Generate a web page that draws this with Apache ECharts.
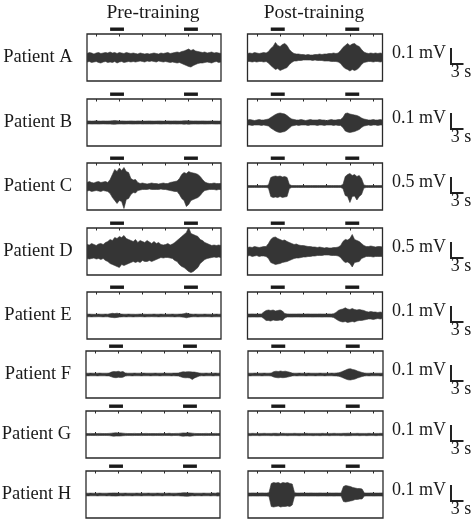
<!DOCTYPE html>
<html><head><meta charset="utf-8">
<script src="https://cdn.jsdelivr.net/npm/echarts@6/dist/echarts.min.js"></script>
<style>html,body{margin:0;padding:0;background:#fff}#c{width:474px;height:523px}</style>
</head><body><div id="c"></div>
<script>
// ---------- data: EMG trace envelopes (upper / lower amplitude, sampled every 0.5 s) ----------
const columns = ['Pre-training', 'Post-training'];
const patients = ['Patient A','Patient B','Patient C','Patient D','Patient E','Patient F','Patient G','Patient H'];
const ampScale = ['0.1 mV','0.1 mV','0.5 mV','0.5 mV','0.1 mV','0.1 mV','0.1 mV','0.1 mV'];
const timeScale = '3 s';
const timeSec = [0,0.5,1,1.5,2,2.5,3,3.5,4,4.5,5,5.5,6,6.5,7,7.5,8,8.5,9,9.5,10,10.5,11,11.5,12,12.5,13,13.5,14,14.5,
  15,15.5,16,16.5,17,17.5,18,18.5,19,19.5,20,20.5,21,21.5,22,22.5,23,23.5,24,24.5,25,25.5,26,26.5,27,27.5,28,28.5,29];
const tickSec = [2,7,12,17,22,27];
const stimOn = [5,21];
const stimOff = [8,24];

const preA_up  = [4,5,4.5,3.5,4.5,5,4,4.5,5,4.5, 5.5,4.5,5,4,5,4.5,4,5,4.5,4, 4.5,4,3.5,4.5,4,3.5,4,3.5,4,4.5, 4,3.5,4.5,4,4.5,5,4,4.5,5,5.5, 5,6,6.5,7.5,8.5,7,8,6.5,6,5.5, 5,5.5,4.5,5,5.5,4.5,5,4.5,4];
const preA_lo  = [4.5,4,5,4.5,4,5,5.5,4.5,4,5, 4.5,5,4,5.5,4.5,4,5,4.5,4,4.5, 4,4.5,4,3.5,4,4.5,3.5,4,3.5,4, 4.5,3.5,4,4.5,4,4.5,5,4.5,5,5.5, 5,6,7,8,9,9.5,8,7,6,5.5, 5.5,5,4.5,5,5.5,4.5,4,5,4.5];
const postA_up = [4,4.5,4,5,4.5,4,4.5,5,4.5,6, 9,11,15,12,11,13,14,12,8,5.5, 4,3.5,3.5,3,3,2.5,3,2.5,2.5,3, 3,3.5,3,3.5,3.5,4,4,4.5,4,4.5, 7,10,12,14,12,13.5,14,12,11,8, 5.5,4.5,4,4.5,4,4.5,4,4.5,4];
const postA_lo = [4,4,4.5,4,4.5,4,4,4.5,4,5.5, 8,10,12,11,13,12,11,10,7,5, 3.5,3.5,3,3,2.5,2.5,2.5,2.5,3,2.5, 3,3,3,3.5,3.5,3.5,4,4,4,4.5, 6,9,11,12,13.5,12,13,12,10,7, 5,4.5,4,4,4.5,4,4,4.5,4];

const preB_up  = [1.5,1.6,1.4,1.5,1.7,1.5,1.4,1.6,1.5,1.5, 1.6,1.8,2,1.7,1.5,1.6,1.5,1.4,1.5,1.6, 1.5,1.4,1.6,1.5,1.5,1.4,1.5,1.6,1.5,1.4, 1.5,1.6,1.5,1.4,1.5,1.6,1.5,1.5,1.6,1.5, 1.5,1.6,1.7,1.8,1.7,1.6,1.5,1.6,1.5,1.5, 1.6,1.5,1.4,1.5,1.6,1.5,1.5,1.4,1.5];
const preB_lo  = [1.5,1.4,1.6,1.5,1.5,1.6,1.5,1.4,1.5,1.6, 1.5,1.7,1.8,1.6,1.5,1.5,1.6,1.5,1.4,1.5, 1.6,1.5,1.5,1.4,1.6,1.5,1.5,1.5,1.6,1.5, 1.4,1.5,1.6,1.5,1.5,1.4,1.6,1.5,1.5,1.6, 1.5,1.5,1.7,1.6,1.8,1.6,1.5,1.5,1.6,1.5, 1.5,1.6,1.5,1.5,1.4,1.5,1.6,1.5,1.5];
const postB_up = [2.5,3,2.5,2,2.5,3,2.5,2.5,3,3.5, 5,6.5,8,9,9.5,9,8.5,7,5,3.5, 3,2.5,2.5,3,2.5,2,2.5,3,2.5,2.5, 2.5,3,2.5,2.5,2,2.5,3,2.5,2.5,3, 3,5,9,9.5,8.5,8,7.5,7,6,4.5, 3.5,3,2.5,2.5,3,2.5,2.5,3,2.5];
const postB_lo = [2.5,2.5,3,2.5,2.5,2.5,3,2.5,3,3.5, 5.5,7,8.5,9.5,10,9.5,9,7.5,5.5,3.5, 3,2.5,3,2.5,2.5,2.5,3,2.5,2.5,2.5, 3,2.5,2.5,3,2.5,2.5,2.5,3,2.5,3, 3,5,8.5,9.5,10,9.5,9,8,7,5, 3.5,3,2.5,3,2.5,2.5,3,2.5,2.5];

const preC_up  = [4,5,4,3.5,4.5,5,4,4.5,5,4, 7,12,17,15,18.5,16,19,15,14,8, 6.5,7,4,3,3.5,3,2.5,3,3.5,3, 3,2.5,3,3.5,3,3,4,4.5,5,5.5, 8,12,14,13,15,14,13.5,13,12,10, 7,4.5,3.5,3,3,3.5,3,3,3];
const preC_lo  = [4.5,4,5,4.5,4,4.5,5,4,4.5,5, 7,11,14,17,14,15,22,13,12,8, 6,6.5,4,3.5,3,3,3,2.5,3,3, 3,3,2.5,3,3,3.5,4,4.5,5,5, 8,12,14,20,18,14,13,12,11,9, 6,4,3.5,3,3,3,3.5,3,3];
const postC_up = [1,1,1,1,1,1,1,1,1,1.5, 9,10,10.5,10,10.5,9.5,10,9,2,1, 1,1,1,1,1,1,1,1,1,1, 1,1,1,1,1,1,1,1,1,1, 1,2,10,12,13,11,12,10,11,8, 1.5,1,1,1,1,1,1,1,1];
const postC_lo = [1,1,1,1,1,1,1,1,1,1.5, 10,11,10.5,11,10,11,10.5,10,2,1, 1,1,1,1,1,1,1,1,1,1, 1,1,1,1,1,1,1,1,1,1, 1,2,9,10,16,10,9.5,13.5,10,8, 1.5,1,1,1,1,1,1,1,1];

const preD_up  = [7,6.5,8,7,6,7.5,8,7,9,10, 12,11,14,13,15,14,16,13,12,11, 10,12,9,11,10,9,11,9.5,8,10, 8,9,7,6.5,7,8,6.5,7.5,9,11, 13,15,17,19,24,18,17,16,15,12, 11,9,8,7,6,6.5,6,6.5,6];
const preD_lo  = [7,7.5,7,6.5,7.5,7,8,7,9,10, 12,13,14,15,16,13,14,13,12,11, 10,11,10,11,9,10,10,9,10,9, 8,7,6,6.5,6,6,6.5,7,9,10, 13,15,16,18,20,21,20,18,16,12, 10,8,7,6.5,6,5.5,6,5.5,6];
const postD_up = [4,4.5,4,5,4.5,4,4.5,5,5,8, 12,14,14.5,13,12,11,11.5,10,9,8, 7,7.5,6.5,6,6,5.5,5,5,4.5,4.5, 4,4.5,4,3.5,4,3.5,3.5,4,4,4.5, 6,10,12,11.5,13,17,12,11,10,8, 6,5,5,5.5,5,4.5,5,5,4.5];
const postD_lo = [4.5,4,5,4.5,4,5,4.5,4.5,5,7, 11,12,13,12.5,12,11,10.5,10,9,8, 7,6.5,6.5,6,5.5,5.5,5,5,4.5,4.5, 4,4,4,3.5,3.5,3.5,4,4,4,4.5, 6,9,11,10.5,12,15.5,11,10.5,10,7, 6,5,5,5,5.5,5,5,5,5];

const preE_up  = [1.3,1.4,1.3,1.2,1.3,1.4,1.3,1.3,1.4,1.3, 1.8,2.2,1.9,2.3,1.8,1.4,1.3,1.3,1.4,1.3, 1.3,1.2,1.3,1.4,1.3,1.3,1.2,1.3,1.3,1.4, 1.3,1.3,1.4,1.3,1.2,1.3,1.3,1.4,1.3,1.3, 1.4,1.5,1.8,2.5,1.7,1.4,1.3,1.4,1.3,1.3, 1.3,1.4,1.3,1.3,1.2,1.3,1.4,1.3,1.3];
const preE_lo  = [1.3,1.3,1.4,1.3,1.3,1.2,1.3,1.4,1.3,1.3, 1.7,2,2.2,1.9,1.6,1.4,1.3,1.4,1.3,1.3, 1.4,1.3,1.3,1.2,1.3,1.4,1.3,1.3,1.2,1.3, 1.3,1.4,1.3,1.3,1.3,1.2,1.3,1.3,1.4,1.3, 1.3,1.5,1.7,2.3,1.8,1.4,1.3,1.3,1.4,1.3, 1.3,1.3,1.2,1.3,1.4,1.3,1.3,1.3,1.3];
const postE_up = [1.5,1.5,1.6,1.5,1.5,1.5,1.6,3.5,5,5.5, 5,5.5,4.5,5,5.5,4.5,2,1.6,1.5,1.5, 1.5,1.5,1.6,1.5,1.5,1.5,1.6,1.5,1.5,1.5, 1.5,1.6,1.5,1.5,1.5,1.6,1.5,1.8,3,5, 6,6.5,7.7,6.5,6,7,6,5.5,6,5.5, 5,4,3.5,4,3.5,3.5,3,3.5,3];
const postE_lo = [1.5,1.6,1.5,1.5,1.6,1.5,1.5,3,5,5, 5.5,4.5,5,5,4.5,5,2.5,1.5,1.5,1.6, 1.5,1.5,1.5,1.6,1.5,1.5,1.5,1.5,1.6,1.5, 1.5,1.5,1.6,1.5,1.5,1.5,1.6,2,3.5,5, 6,6.5,6,7,6.5,6,6.5,5.5,5,5, 4.5,4,3.5,3.5,4,3.5,3,3.5,3];

const preF_up  = [1.3,1.3,1.4,1.3,1.3,1.3,1.4,1.3,1.3,1.3, 1.4,2.5,3,2.8,3.2,2.6,3,1.6,1.3,1.3, 1.3,1.4,1.3,1.3,1.3,1.4,1.3,1.3,1.3,1.3, 1.4,1.3,1.3,1.3,1.4,1.3,1.3,1.3,1.4,1.4, 1.5,2.2,2.7,2.6,2.8,2.7,2.5,2.4,2,1.5, 1.3,1.3,1.4,1.3,1.3,1.3,1.4,1.3,1.3];
const preF_lo  = [1.3,1.4,1.3,1.3,1.3,1.4,1.3,1.3,1.3,1.4, 1.4,2.3,3,3.2,2.8,3,2.7,1.6,1.3,1.3, 1.4,1.3,1.3,1.3,1.4,1.3,1.3,1.3,1.4,1.3, 1.3,1.3,1.4,1.3,1.3,1.3,1.3,1.4,1.3,1.4, 1.5,2.3,3,3.3,3.2,3.5,5,3.4,2.5,1.6, 1.3,1.4,1.3,1.3,1.3,1.4,1.3,1.3,1.3];
const postF_up = [1.3,1.3,1.3,1.4,1.3,1.3,1.3,1.4,1.3,1.3, 1.5,2.8,3.3,3,3.5,3,3.3,2.8,2.2,1.4, 1.3,1.3,1.4,1.3,1.3,1.3,1.4,1.3,1.3,1.3, 1.3,1.4,1.3,1.3,1.3,1.3,1.4,1.3,1.5,1.8, 2.5,3.5,4.5,5.5,5.8,5,4.5,3.5,2.8,2, 1.5,1.3,1.3,1.4,1.3,1.3,1.3,1.3,1.3];
const postF_lo = [1.3,1.4,1.3,1.3,1.3,1.3,1.4,1.3,1.3,1.3, 1.5,2.5,3,3.3,3,3.2,3,2.6,2,1.4, 1.3,1.4,1.3,1.3,1.3,1.4,1.3,1.3,1.3,1.4, 1.3,1.3,1.3,1.4,1.3,1.3,1.3,1.4,1.5,1.8, 2.5,3.5,4.5,5.3,5.5,5,4.5,3.5,2.8,2, 1.5,1.3,1.4,1.3,1.3,1.3,1.3,1.4,1.3];

const preG_up  = [1,1,1.1,1,1,1,1.1,1,1,1, 1.1,1.3,1.6,1.7,1.5,1.6,1.3,1.1,1,1, 1,1.1,1,1,1,1,1.1,1,1,1, 1,1,1.1,1,1,1,1.2,1,1,1.1, 1.1,1.3,1.6,1.5,1.7,1.6,1.3,1.1,1,1, 1,1,1.1,1,1,1,1.1,1,1];
const preG_lo  = [1,1.1,1,1,1,1.1,1,1,1,1, 1.1,1.4,1.7,1.5,1.6,1.5,1.2,1.1,1,1, 1.1,1,1,1,1.1,1,1,1,1,1.1, 1,1,1,1.1,1,1,1,1.2,1,1, 1.1,1.4,1.7,1.6,1.5,1.7,1.4,1.1,1,1, 1,1.1,1,1,1,1.1,1,1,1];
const postG_up = [1.1,1.1,1.2,1.1,1.1,1.1,1.1,1.2,1.1,1.1, 1.1,1.2,1.2,1.1,1.1,1.2,1.1,1.1,1.1,1.1, 1.2,1.1,1.1,1.1,1.1,1.2,1.1,1.1,1.1,1.1, 1.1,1.1,1.2,1.1,1.1,1.1,1.1,1.2,1.1,1.1, 1.1,1.2,1.2,1.3,1.2,1.1,1.1,1.2,1.1,1.1, 1.1,1.1,1.2,1.1,1.1,1.1,1.1,1.2,1.1];
const postG_lo = [1.1,1.2,1.1,1.1,1.1,1.2,1.1,1.1,1.1,1.1, 1.2,1.1,1.2,1.2,1.1,1.1,1.1,1.2,1.1,1.1, 1.1,1.1,1.2,1.1,1.1,1.1,1.1,1.1,1.2,1.1, 1.1,1.2,1.1,1.1,1.1,1.2,1.1,1.1,1.1,1.1, 1.2,1.1,1.3,1.2,1.2,1.1,1.1,1.1,1.2,1.1, 1.1,1.2,1.1,1.1,1.1,1.2,1.1,1.1,1.1];

const preH_up  = [1.3,1.3,1.4,1.3,1.3,1.3,1.4,1.3,1.3,1.3, 1.4,1.5,1.6,1.5,1.4,1.3,1.3,1.4,1.3,1.3, 1.3,1.3,1.4,1.3,1.3,1.3,1.3,1.4,1.3,1.3, 1.3,1.4,1.3,1.3,1.3,1.3,1.4,1.3,1.3,1.3, 1.4,1.5,1.7,1.8,1.6,1.5,1.4,1.3,1.3,1.3, 1.3,1.4,1.3,1.3,1.3,1.4,1.3,1.8,1.4];
const preH_lo  = [1.3,1.4,1.3,1.3,1.3,1.4,1.3,1.3,1.3,1.4, 1.3,1.5,1.5,1.6,1.4,1.3,1.4,1.3,1.3,1.3, 1.4,1.3,1.3,1.3,1.4,1.3,1.3,1.3,1.3,1.4, 1.3,1.3,1.3,1.4,1.3,1.3,1.3,1.3,1.4,1.3, 1.3,1.5,1.6,1.7,1.8,1.5,1.3,1.4,1.3,1.3, 1.4,1.3,1.3,1.3,1.4,1.3,1.3,1.6,1.3];
const postH_up = [1.5,1.5,1.6,1.5,1.5,1.5,1.6,1.5,1.5,1.8, 11,12,11.5,12,11,12,11.5,12,11,10.5, 1.8,1.5,1.5,1.6,1.5,1.5,1.5,1.6,1.5,1.5, 1.5,1.6,1.5,1.5,1.5,1.6,1.5,1.5,1.6,1.5, 1.5,8,9,8.5,8,7,6.5,6,6,5.5, 1.6,1.5,1.5,1.6,1.5,1.5,1.5,1.6,1.5];
const postH_lo = [1.5,1.6,1.5,1.5,1.6,1.5,1.5,1.5,1.6,1.8, 12,12.5,12,11.5,12.5,12,12,11.5,12,10.5, 1.8,1.5,1.6,1.5,1.5,1.5,1.6,1.5,1.5,1.5, 1.6,1.5,1.5,1.5,1.6,1.5,1.5,1.6,1.5,1.5, 1.5,7,7.5,7,6.5,6,5,5,4.5,4.5, 1.6,1.5,1.5,1.5,1.6,1.5,1.5,1.5,1.6];

const panels = [
  [[preA_up, preA_lo], [postA_up, postA_lo]],
  [[preB_up, preB_lo], [postB_up, postB_lo]],
  [[preC_up, preC_lo], [postC_up, postC_lo]],
  [[preD_up, preD_lo], [postD_up, postD_lo]],
  [[preE_up, preE_lo], [postE_up, postE_lo]],
  [[preF_up, preF_lo], [postF_up, postF_lo]],
  [[preG_up, preG_lo], [postG_up, postG_lo]],
  [[preH_up, preH_lo], [postH_up, postH_lo]]
];

// ---------- layout / style ----------
const INK = '#353535', FRAME = '#2a2a2a', TXT = '#1a1a1a';
const FONT = '"Liberation Serif", "DejaVu Serif", serif';
const rowTop = [34, 99, 163, 228, 292, 351, 411, 471];
const colLeft = [[87,247.5],[87,247.5],[87,247.5],[87,247.5],[87,247.5],[86,248],[86,248],[86,248]];
const colW = [134, 135], panelH = 47, halfH = 23.5;

// envelope band: one polygon through all samples (upper edge forward, lower edge back)
function renderBand(params, api) {
  if (params.dataIndexInside !== 0) return null;
  const n = params.dataInsideLength;
  const top = [], bot = [];
  for (let i = 0; i < n; i++) {
    const x = api.value(0, i);
    top.push(api.coord([x, api.value(1, i)]));
    bot.push(api.coord([x, api.value(2, i)]));
  }
  return {type: 'polygon', shape: {points: top.concat(bot.reverse())},
          style: {fill: INK, stroke: INK, lineWidth: 0.6}};
}
function renderStim(params, api) {
  const a = api.coord([api.value(0), halfH]);
  const b = api.coord([api.value(1), halfH]);
  return {type: 'rect', shape: {x: a[0], y: a[1]-6.5, width: b[0]-a[0], height: 3.4}, style: {fill: '#1a1a1a'}};
}

const grids = [], xAxes = [], yAxes = [], series = [], graphics = [];
let p = 0;
for (let r = 0; r < 8; r++) {
  for (let c = 0; c < 2; c++) {
    const [up, lo] = panels[r][c];
    grids.push({left: colLeft[r][c], top: rowTop[r], width: colW[c], height: panelH,
      show: true, borderColor: FRAME, borderWidth: 1.3, backgroundColor: 'rgba(0,0,0,0)'});
    ['bottom','top'].forEach(pos => xAxes.push({
      type: 'value', gridIndex: p, position: pos, min: 0, max: 29,
      axisLine: {show: false}, axisLabel: {show: false}, splitLine: {show: false},
      axisTick: {show: true, inside: true, length: 2.5, customValues: tickSec, lineStyle: {color: FRAME, width: 1}}
    }));
    yAxes.push({type: 'value', gridIndex: p, min: -halfH, max: halfH, show: false});
    series.push({type: 'custom', xAxisIndex: 2*p, yAxisIndex: p, clip: true, silent: true, z: 2,
      encode: {x: 0, y: [1, 2]},
      data: timeSec.map((t,i) => [t, up[i], -lo[i]]),
      renderItem: renderBand});
    series.push({type: 'custom', xAxisIndex: 2*p, yAxisIndex: p, clip: false, silent: true,
      data: stimOn.map((s,i) => [s, stimOff[i]]),
      renderItem: renderStim});
    p++;
  }
  const t = rowTop[r];
  const lx = r >= 6 ? 36.5 : 38;
  graphics.push({type:'text', x: lx, y: t+23, style:{text: patients[r], font: '18.5px '+FONT, fill: TXT, textAlign:'center', textVerticalAlign:'middle'}});
  graphics.push({type:'text', x: 446, y: t+19.5, style:{text: ampScale[r], font: '18px '+FONT, fill: TXT, textAlign:'right', textVerticalAlign:'middle'}});
  graphics.push({type:'polyline', shape:{points:[[451,t+14],[451,t+30],[463.5,t+30]]}, style:{stroke:'#222', lineWidth:2, fill:null}});
  graphics.push({type:'text', x: 461, y: t+38.5, style:{text: timeScale, font: '18px '+FONT, fill: TXT, textAlign:'center', textVerticalAlign:'middle'}});
}
graphics.push({type:'text', x: 153, y: 12.5, style:{text: columns[0], font: '19.5px '+FONT, fill: TXT, textAlign:'center', textVerticalAlign:'middle'}});
graphics.push({type:'text', x: 314, y: 12.5, style:{text: columns[1], font: '19.5px '+FONT, fill: TXT, textAlign:'center', textVerticalAlign:'middle'}});

const chart = echarts.init(document.getElementById('c'), null, {renderer: 'canvas'});
chart.setOption({animation: false, backgroundColor: '#fff', grid: grids, xAxis: xAxes, yAxis: yAxes, series: series, graphic: graphics});
</script></body></html>
